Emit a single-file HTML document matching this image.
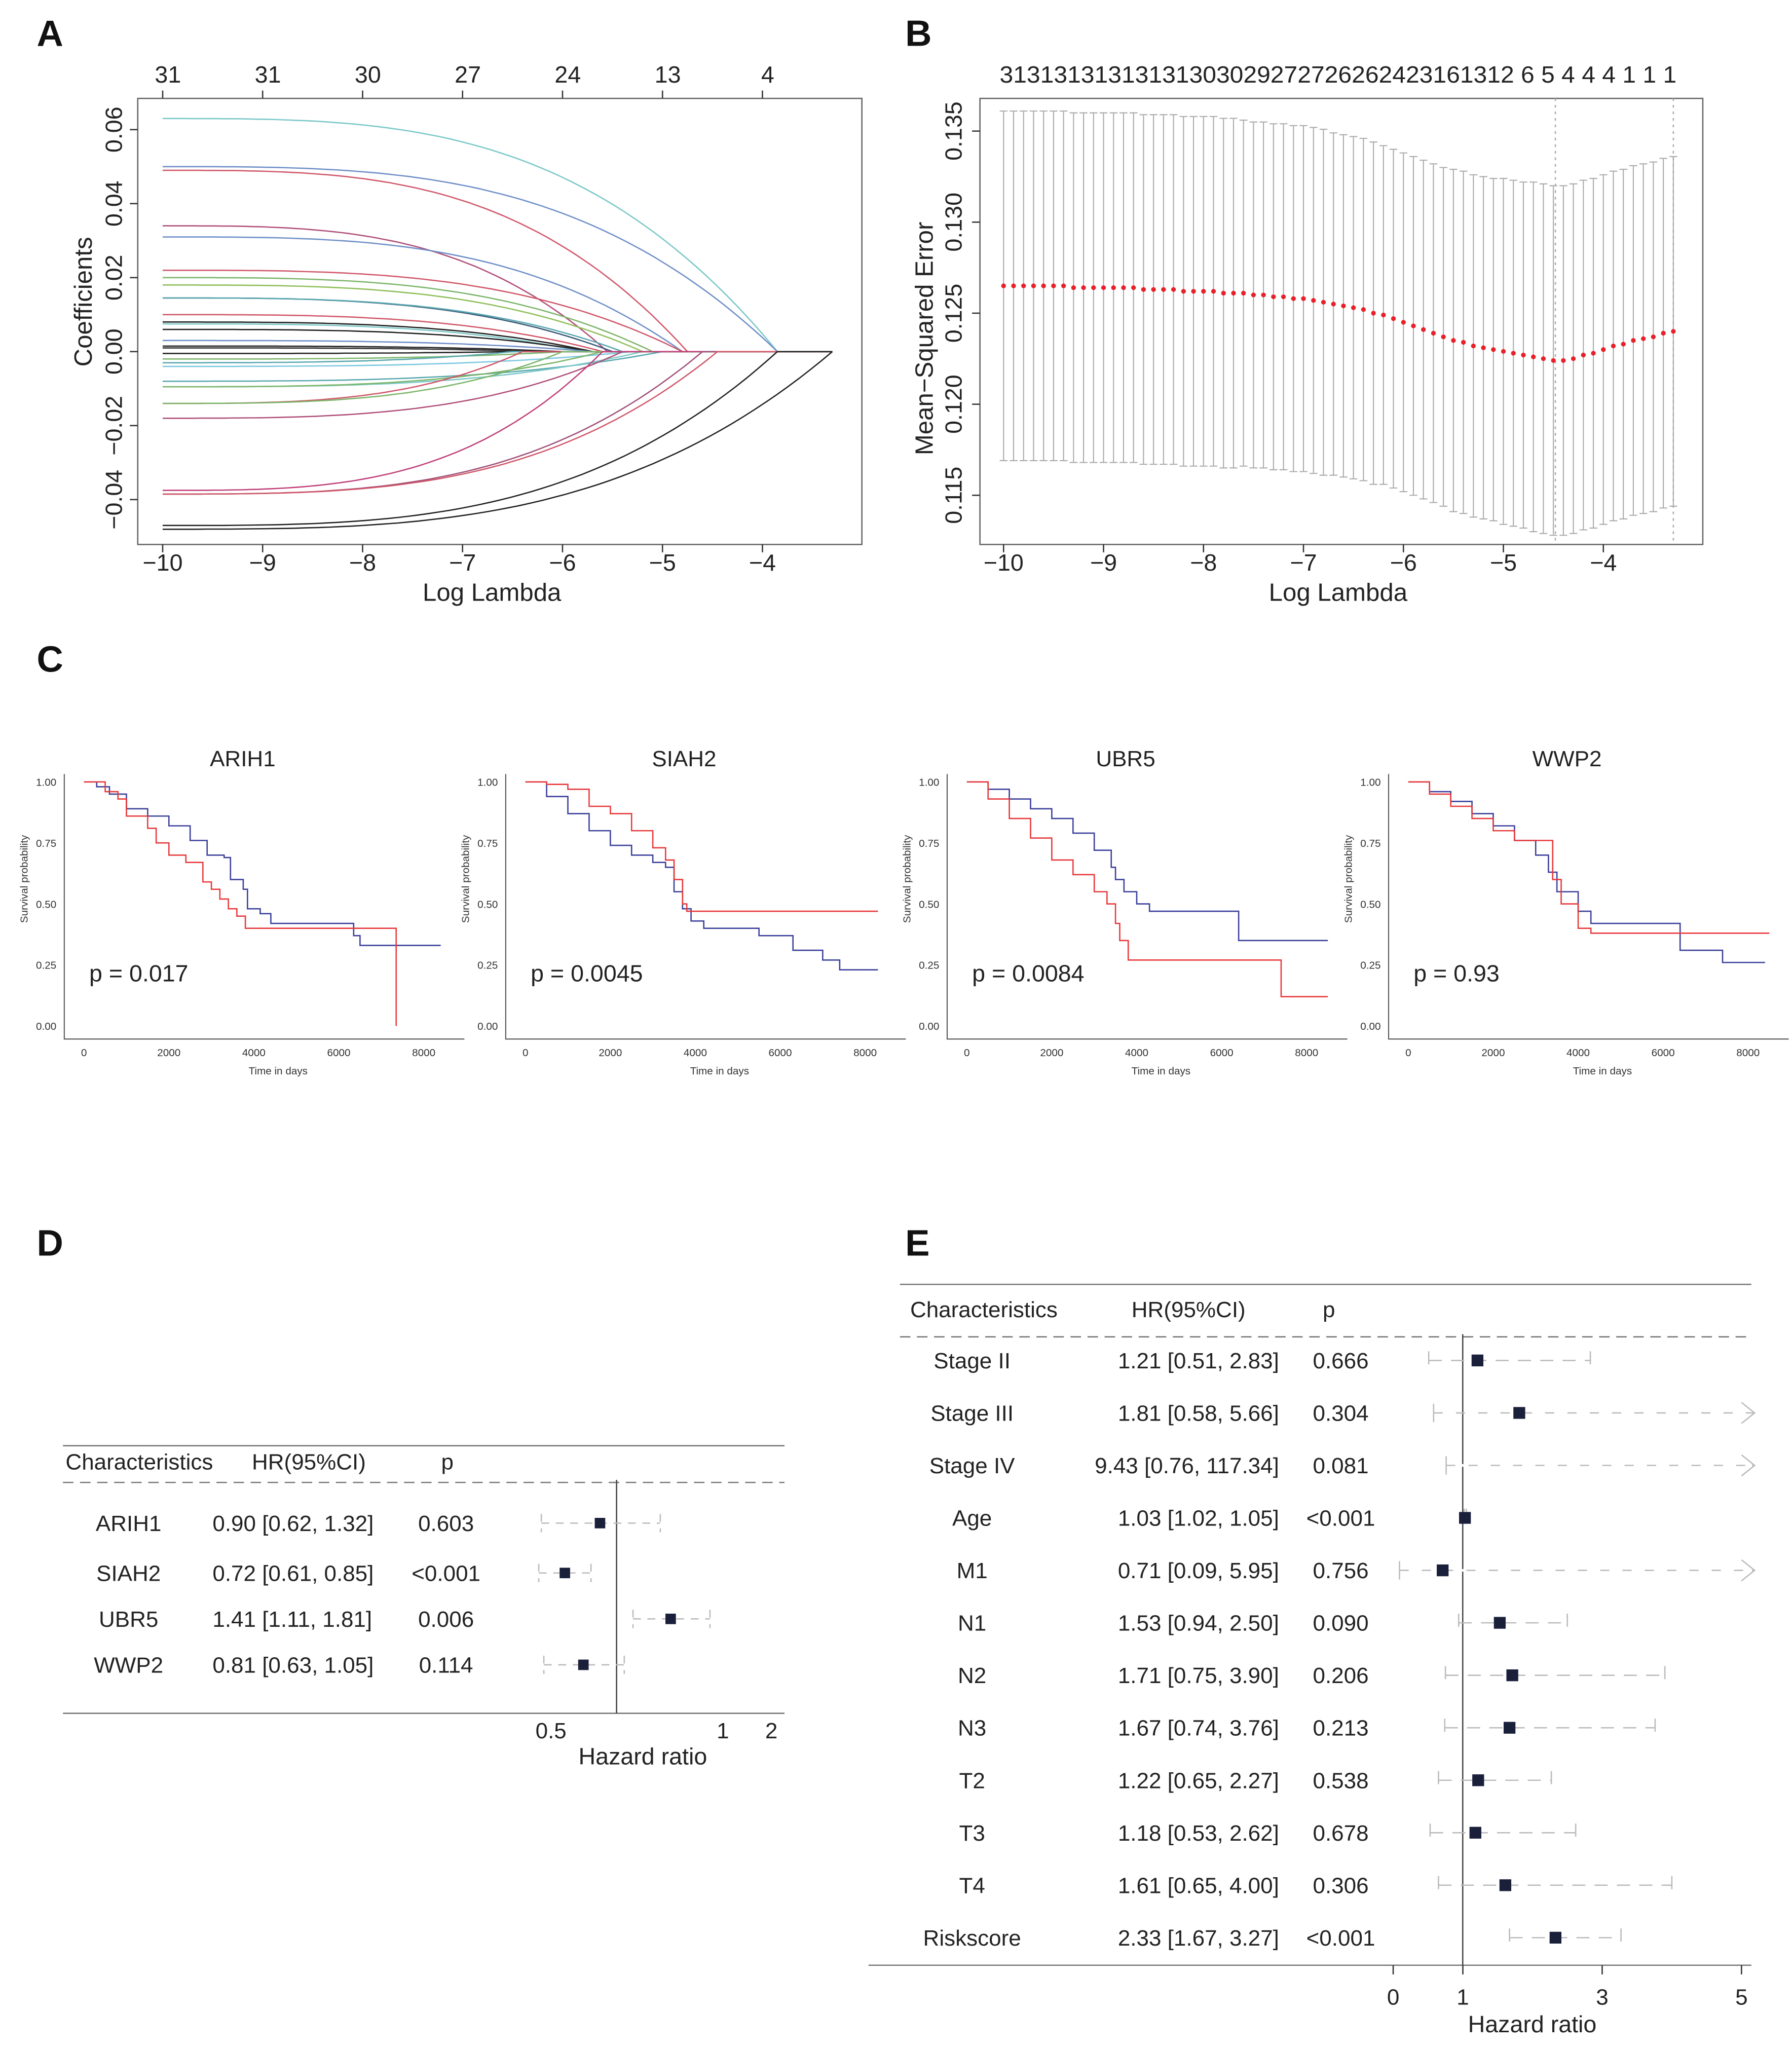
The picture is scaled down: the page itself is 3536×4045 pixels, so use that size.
<!DOCTYPE html>
<html><head><meta charset="utf-8"><style>
html,body{margin:0;padding:0;background:#fff;}
svg{display:block;font-family:"Liberation Sans",Arial,sans-serif;}
</style></head><body>
<svg id="fig" xmlns="http://www.w3.org/2000/svg" width="3536" height="4045" viewBox="0 0 1366 1562.6">
<rect x="0" y="0" width="1366" height="1562.6" fill="#fff"/>
<g font-weight="bold" font-size="28" fill="#111">
<text x="28" y="35">A</text>
<text x="690" y="35">B</text>
<text x="28" y="512">C</text>
<text x="28" y="957">D</text>
<text x="690" y="957">E</text>
</g>
<g id="pa"></g>
<g id="pb"></g>
<g id="pc"></g>
<g id="pd" transform="translate(0,-4)"></g>
<g id="pe" transform="translate(0,-4)"></g>
</svg>
<script>
// ---------- Panel A data ----------
const coefStart = [0.063,0.050,0.049,0.034,0.031,0.022,0.020,0.018,0.0145,0.0145,0.010,0.008,0.0075,0.006,0.003,0.0015,0.001,-0.0005,-0.002,-0.003,-0.004,-0.008,-0.0095,-0.0095,-0.014,-0.014,-0.018,-0.0375,-0.0385,-0.0385,-0.047,-0.048];
const coefZero  = [-3.85,-3.85,-4.75,-5.55,-4.8,-4.8,-5.1,-5.2,-5.5,-5.4,-5.6,-5.7,-5.8,-5.7,-5.7,-6.0,-6.2,-6.5,-6.0,-6.5,-5.3,-5.0,-5.2,-5.6,-6.4,-6.0,-5.4,-5.6,-4.6,-4.45,-3.85,-3.3];
const coefColor = ["#7cc8c8","#6f8fc8","#d0586a","#b0507a","#6f8fc8","#d0586a","#7cb56a","#8fbf5a","#3a5a78","#5aa8b0","#d0586a","#222","#7cc8c8","#222","#6f8fc8","#222","#333","#222","#7cb56a","#5aa8b0","#7cc8e0","#5aa8b0","#7cc8c8","#7cb56a","#d0586a","#7cb56a","#b0507a","#c0407a","#a0507a","#d0586a","#222","#222"];
const aTopLabels = ["31","31","30","27","24","13","4"];
const aXTicks = [-10,-9,-8,-7,-6,-5,-4];
const aYTicks = [0.06,0.04,0.02,0.00,-0.02,-0.04];
// ---------- Panel B data ----------
const bTopLabel = "31313131313131303029272726262423161312 6 5 4 4 4 1 1 1";
const bLambdaStart = -10, bLambdaStep = 0.1;
const bMse = [0.1265,0.1265,0.1265,0.1265,0.1265,0.1265,0.1265,0.1264,0.1264,0.1264,0.1264,
0.1264,0.1264,0.1264,0.1263,0.1263,0.1263,0.1263,0.1262,0.1262,0.1262,
0.1262,0.1261,0.1261,0.1261,0.1260,0.1260,0.1259,0.1259,0.1258,0.1258,
0.1257,0.1256,0.1255,0.1254,0.1253,0.1252,0.1250,0.1249,0.1247,0.1245,
0.1243,0.1241,0.1239,0.1237,0.1235,0.1234,0.1232,0.1231,0.1230,0.1229,
0.1228,0.1227,0.1226,0.1225,0.1224,0.1224,0.1225,0.1227,0.1228,0.1230,
0.1232,0.1233,0.1235,0.1236,0.1237,0.1239,0.1240];
const bSe = [0.0096,0.0096,0.0096,0.0096,0.0096,0.0096,0.0096,0.0096,0.0096,0.0096,0.0096,
0.0096,0.0096,0.0096,0.0096,0.0096,0.0096,0.0096,0.0096,0.0096,0.0096,
0.0096,0.0096,0.0096,0.0095,0.0095,0.0095,0.0095,0.0095,0.0095,0.0095,
0.0095,0.0095,0.0094,0.0094,0.0094,0.0094,0.0094,0.0093,0.0093,0.0093,
0.0093,0.0093,0.0093,0.0093,0.0094,0.0094,0.0094,0.0094,0.0094,0.0095,
0.0095,0.0095,0.0096,0.0096,0.0096,0.0096,0.0096,0.0096,0.0096,0.0096,
0.0096,0.0096,0.0096,0.0096,0.0096,0.0096,0.0096];
const bXTicks = [-10,-9,-8,-7,-6,-5,-4];
const bYTicks = [0.115,0.120,0.125,0.130,0.135];
const bVLines = [-4.48,-3.3];
// ---------- Panel C data ----------
const kmGenes = ["ARIH1","SIAH2","UBR5","WWP2"];
const kmP = ["p = 0.017","p = 0.0045","p = 0.0084","p = 0.93"];
const kmBlueT = [
[0,300,600,1000,1500,2000,2500,2900,3300,3450,3750,3850,4150,4400,6300,6350,6500,8400],
[0,500,1000,1500,2000,2500,3000,3300,3500,3700,3900,4200,5500,6300,7000,7400,8300],
[0,500,1000,1500,2000,2500,3000,3400,3500,3700,4000,4300,6300,6400,8500],
[0,500,1000,1500,2000,2500,3000,3300,3500,4000,4300,6300,6400,7400,8400]];
const kmBlueS = [
[1,0.98,0.95,0.89,0.86,0.82,0.76,0.70,0.69,0.60,0.56,0.48,0.46,0.42,0.42,0.37,0.33,0.33],
[1,0.94,0.87,0.80,0.74,0.70,0.67,0.65,0.55,0.48,0.43,0.40,0.37,0.31,0.27,0.23,0.23],
[1,0.97,0.93,0.89,0.85,0.79,0.72,0.65,0.60,0.55,0.50,0.47,0.47,0.35,0.35],
[1,0.96,0.92,0.87,0.82,0.76,0.70,0.63,0.55,0.47,0.42,0.42,0.31,0.26,0.26]];
const kmRedT = [
[0,500,800,1000,1500,1700,2000,2400,2800,3000,3200,3400,3600,3800,7350,7351],
[0,500,1000,1500,2000,2500,3000,3300,3500,3700,3800,8300],
[0,500,1000,1500,2000,2500,3000,3300,3500,3600,3800,7300,7400,8500],
[0,500,1000,1500,2000,2500,3300,3400,3600,4000,4300,8500]];
const kmRedS = [
[1,0.96,0.93,0.86,0.81,0.75,0.70,0.67,0.59,0.56,0.52,0.48,0.45,0.40,0.40,0.0],
[1,0.99,0.97,0.90,0.87,0.80,0.73,0.68,0.60,0.50,0.47,0.47],
[1,0.93,0.85,0.77,0.68,0.62,0.55,0.50,0.42,0.35,0.27,0.27,0.12,0.12],
[1,0.95,0.90,0.85,0.80,0.76,0.76,0.60,0.50,0.40,0.38,0.38]];
const kmXTicks = [0,2000,4000,6000,8000];
const kmYTicks = [0,0.25,0.5,0.75,1];
// ---------- Panel D data ----------
const dNames = ["ARIH1","SIAH2","UBR5","WWP2"];
const dHRtext = ["0.90 [0.62, 1.32]","0.72 [0.61, 0.85]","1.41 [1.11, 1.81]","0.81 [0.63, 1.05]"];
const dP = ["0.603","<0.001","0.006","0.114"];
const dHR = [0.90,0.72,1.41,0.81];
const dLo = [0.62,0.61,1.11,0.63];
const dHi = [1.32,0.85,1.81,1.05];
// ---------- Panel E data ----------
const eNames = ["Stage II","Stage III","Stage IV","Age","M1","N1","N2","N3","T2","T3","T4","Riskscore"];
const eHRtext = ["1.21 [0.51, 2.83]","1.81 [0.58, 5.66]","9.43 [0.76, 117.34]","1.03 [1.02, 1.05]","0.71 [0.09, 5.95]","1.53 [0.94, 2.50]","1.71 [0.75, 3.90]","1.67 [0.74, 3.76]","1.22 [0.65, 2.27]","1.18 [0.53, 2.62]","1.61 [0.65, 4.00]","2.33 [1.67, 3.27]"];
const eP = ["0.666","0.304","0.081","<0.001","0.756","0.090","0.206","0.213","0.538","0.678","0.306","<0.001"];
const eHR = [1.21,1.81,9.43,1.03,0.71,1.53,1.71,1.67,1.22,1.18,1.61,2.33];
const eLo = [0.51,0.58,0.76,1.02,0.09,0.94,0.75,0.74,0.65,0.53,0.65,1.67];
const eHi = [2.83,5.66,117.34,1.05,5.95,2.50,3.90,3.76,2.27,2.62,4.00,3.27];
const eXTicks = [0,1,3,5];

const NS="http://www.w3.org/2000/svg";
function mk(parent,tag,attrs,txt){const e=document.createElementNS(NS,tag);for(const k in attrs)e.setAttribute(k,attrs[k]);if(txt!==undefined)e.textContent=txt;parent.appendChild(e);return e;}

// ===== Panel A =====
(function(){
const g=document.getElementById('pa');
const X0=105,X1=657,Y0=75,Y1=415;
const xs=v=>124+(v+10)*76.2, ys=v=>268-v/0.02*56.4;
const box=mk(g,'rect',{x:X0,y:Y0,width:X1-X0,height:Y1-Y0,fill:'none',stroke:'#666','stroke-width':1});


for(let i=0;i<coefStart.length;i++){
 const v0=coefStart[i], z=coefZero[i];let d='';
 for(let k=0;k<=60;k++){const x=-10+(z+10)*k/60;const t=(x+10)/(z+10);const v=v0*(1-Math.pow(t,3.2));d+=(k?'L':'M')+xs(x).toFixed(1)+' '+ys(v).toFixed(1);}
 d+='L'+xs(-3.3).toFixed(1)+' '+ys(0).toFixed(1);
 const p=mk(g,'path',{d:d,fill:'none',stroke:coefColor[i],'stroke-width':1});
 
 
}
aXTicks.forEach((t,i)=>{
 mk(g,'line',{x1:xs(t),x2:xs(t),y1:Y1,y2:Y1+6,stroke:'#333'});
 const l=mk(g,'text',{x:xs(t),y:Y1+20,'font-size':18,'text-anchor':'middle',fill:'#222'},t<0?'\u2212'+(-t):''+t);
 
 
 mk(g,'line',{x1:xs(t),x2:xs(t),y1:Y0,y2:Y0-6,stroke:'#333'});
 const tl=mk(g,'text',{x:xs(t)+4,y:63,'font-size':18,'text-anchor':'middle',fill:'#222'},aTopLabels[i]);
 
 
});
aYTicks.forEach(t=>{
 mk(g,'line',{x1:X0,x2:X0-6,y1:ys(t),y2:ys(t),stroke:'#333'});
 const s=(t<0?'\u2212':'')+Math.abs(t).toFixed(2);
 const l=mk(g,'text',{x:0,y:0,'font-size':18,'text-anchor':'middle',fill:'#222',transform:`translate(93,${ys(t)}) rotate(-90)`},s);
 
 
});
const xt=mk(g,'text',{x:375,y:458,'font-size':19,'text-anchor':'middle',fill:'#222'},'Log Lambda');


const yt=mk(g,'text',{x:0,y:0,'font-size':19,'text-anchor':'middle',fill:'#222',transform:'translate(70,230) rotate(-90)'},'Coefficients');


})();

// ===== Panel B =====
(function(){
const g=document.getElementById('pb');
const X0=747,X1=1298,Y0=75,Y1=415;
const xs=v=>765+(v+10)*76.2, ys=v=>99.9+(0.135-v)/0.005*69.4;
const box=mk(g,'rect',{x:X0,y:Y0,width:X1-X0,height:Y1-Y0,fill:'none',stroke:'#666','stroke-width':1});


bVLines.forEach(v=>{mk(g,'line',{x1:xs(v),x2:xs(v),y1:Y0,y2:Y1,stroke:'#aaa','stroke-dasharray':'2 3'});});
bMse.forEach((m,i)=>{
 const lam=bLambdaStart+i*bLambdaStep, x=xs(lam);
 const eb=mk(g,'path',{d:`M${x} ${ys(m+bSe[i])}L${x} ${ys(m-bSe[i])}M${x-3} ${ys(m+bSe[i])}L${x+3} ${ys(m+bSe[i])}M${x-3} ${ys(m-bSe[i])}L${x+3} ${ys(m-bSe[i])}`,stroke:'#aaa','stroke-width':0.8,fill:'none'});
 
 
});
bMse.forEach((m,i)=>{
 const lam=bLambdaStart+i*bLambdaStep;
 const c=mk(g,'circle',{cx:xs(lam),cy:ys(m),r:1.8,fill:'#e8202a'});
 
 
});
bXTicks.forEach(t=>{
 mk(g,'line',{x1:xs(t),x2:xs(t),y1:Y1,y2:Y1+6,stroke:'#333'});
 const l=mk(g,'text',{x:xs(t),y:Y1+20,'font-size':18,'text-anchor':'middle',fill:'#222'},'\u2212'+(-t));
 
 
});
bYTicks.forEach(t=>{
 mk(g,'line',{x1:X0,x2:X0-6,y1:ys(t),y2:ys(t),stroke:'#333'});
 const l=mk(g,'text',{x:0,y:0,'font-size':18,'text-anchor':'middle',fill:'#222',transform:`translate(733,${ys(t)}) rotate(-90)`},t.toFixed(3));
 
 
});
const top=mk(g,'text',{x:762,y:63,'font-size':18,fill:'#222',textLength:516,lengthAdjust:'spacingAndGlyphs'},bTopLabel);


const xt=mk(g,'text',{x:1020,y:458,'font-size':19,'text-anchor':'middle',fill:'#222'},'Log Lambda');


const yt=mk(g,'text',{x:0,y:0,'font-size':19,'text-anchor':'middle',fill:'#222',transform:'translate(711,258) rotate(-90)'},'Mean\u2212Squared Error');


})();

// ===== Panel C =====
(function(){
const g=document.getElementById('pc');
kmGenes.forEach((gene,k)=>{
 const ox=64+k*336.5;
 const xs=t=>ox+t*259/8000, ys=s=>782-s*186;
 const sg=mk(g,'g',{});
 
 
 mk(sg,'path',{d:`M${ox-15} 590L${ox-15} 792L${ox+290} 792`,fill:'none',stroke:'#555','stroke-width':0.8});
 kmYTicks.forEach(t=>{
  const l=mk(sg,'text',{x:ox-21,y:ys(t)+3,'font-size':8,'text-anchor':'end',fill:'#333'},t.toFixed(2));
  
  
 });
 kmXTicks.forEach(t=>{
  const l=mk(sg,'text',{x:xs(t),y:805,'font-size':8,'text-anchor':'middle',fill:'#333'},''+t);
  
  
 });
 const xl=mk(sg,'text',{x:ox+148,y:819,'font-size':8,'text-anchor':'middle',fill:'#333'},'Time in days');
 
 
 const yl=mk(sg,'text',{x:0,y:0,'font-size':8,'text-anchor':'middle',fill:'#333',transform:`translate(${ox-43},670) rotate(-90)`},'Survival probability');
 
 
 const ti=mk(sg,'text',{x:ox+121,y:584,'font-size':17,'text-anchor':'middle',fill:'#222'},gene);
 
 
 const pv=mk(sg,'text',{x:ox+4,y:748,'font-size':18,fill:'#222'},kmP[k]);
 
 
 [[kmBlueT[k],kmBlueS[k],'#3a3f9a','blue'],[kmRedT[k],kmRedS[k],'#e8383a','red']].forEach(([T,S,col,nm])=>{
  let d=`M${xs(T[0])} ${ys(S[0])}`;
  for(let i=1;i<T.length;i++){d+=`L${xs(T[i])} ${ys(S[i-1])}L${xs(T[i])} ${ys(S[i])}`;}
  const p=mk(sg,'path',{d:d,fill:'none',stroke:col,'stroke-width':1});
  
  
 });
});
})();

// ===== Panel D =====
(function(){
const g=document.getElementById('pd');
const xs=v=>470+120*Math.log(v);
const rowY=[1165,1203,1238,1273];
mk(g,'line',{x1:48,x2:598,y1:1106,y2:1106,stroke:'#777'});
mk(g,'line',{x1:48,x2:598,y1:1134,y2:1134,stroke:'#777','stroke-dasharray':'8 5'});
mk(g,'line',{x1:48,x2:598,y1:1310,y2:1310,stroke:'#777'});
mk(g,'line',{x1:470,x2:470,y1:1132,y2:1310,stroke:'#444'});
[['Characteristics',50,'start'],['HR(95%CI)',192,'start'],['p',341,'middle']].forEach(([t,x,a])=>{
 const h=mk(g,'text',{x:x,y:1124,'font-size':17,'text-anchor':a,fill:'#222'},t);
 
 
});
dNames.forEach((n,i)=>{
 const y=rowY[i];
 const a=mk(g,'text',{x:98,y:y+6,'font-size':17,'text-anchor':'middle',fill:'#222'},n);
 
 
 const b=mk(g,'text',{x:162,y:y+6,'font-size':17,fill:'#222'},dHRtext[i]);
 
 
 const c=mk(g,'text',{x:340,y:y+6,'font-size':17,'text-anchor':'middle',fill:'#222'},dP[i]);
 
 
 const l=mk(g,'path',{d:`M${xs(dLo[i])} ${y}L${xs(dHi[i])} ${y}M${xs(dLo[i])} ${y-7}L${xs(dLo[i])} ${y+7}M${xs(dHi[i])} ${y-7}L${xs(dHi[i])} ${y+7}`,stroke:'#bbb','stroke-dasharray':'6 5',fill:'none'});
 
 
 const r=mk(g,'rect',{x:xs(dHR[i])-4,y:y-4,width:8,height:8,fill:'#1a1f3a'});
 
 
});
[['0.5',420],['1',551],['2',588]].forEach(([t,x])=>{
 const l=mk(g,'text',{x:x,y:1329,'font-size':17,'text-anchor':'middle',fill:'#222'},t);
 
 
});
const xt=mk(g,'text',{x:490,y:1349,'font-size':18,'text-anchor':'middle',fill:'#222'},'Hazard ratio');


})();

// ===== Panel E =====
(function(){
const g=document.getElementById('pe');
const xs=v=>1062+53.1*v;
const xmax=5;
mk(g,'line',{x1:686,x2:1335,y1:983,y2:983,stroke:'#777'});
mk(g,'line',{x1:686,x2:1335,y1:1023,y2:1023,stroke:'#777','stroke-dasharray':'8 5'});
mk(g,'line',{x1:662,x2:1335,y1:1502,y2:1502,stroke:'#777'});
mk(g,'line',{x1:1115,x2:1115,y1:1021,y2:1502,stroke:'#444'});
[['Characteristics',750],['HR(95%CI)',906],['p',1013]].forEach(([t,x])=>{
 const h=mk(g,'text',{x:x,y:1008,'font-size':17,'text-anchor':'middle',fill:'#222'},t);
 
 
});
eNames.forEach((n,i)=>{
 const y=1041+i*40;
 const a=mk(g,'text',{x:741,y:y+6,'font-size':17,'text-anchor':'middle',fill:'#222'},n);
 
 
 const b=mk(g,'text',{x:975,y:y+6,'font-size':17,'text-anchor':'end',fill:'#222'},eHRtext[i]);
 
 
 const c=mk(g,'text',{x:1022,y:y+6,'font-size':17,'text-anchor':'middle',fill:'#222'},eP[i]);
 
 
 const lo=xs(eLo[i]), over=eHi[i]>xmax, hi=xs(Math.min(eHi[i],xmax))+(over?10:0);
 let d=`M${lo} ${y}L${hi} ${y}M${lo} ${y-7}L${lo} ${y+7}`;
 if(over){d+=`M${hi-10} ${y-8}L${hi} ${y}L${hi-10} ${y+8}`;}else{d+=`M${hi} ${y-7}L${hi} ${y+7}`;}
 const l=mk(g,'path',{d:d,stroke:'#bbb','stroke-dasharray':over?'none':'10 7',fill:'none'});
 
 
 if(over){mk(g,'line',{x1:lo,x2:hi-2,y1:y,y2:y,stroke:'#fff','stroke-dasharray':'10 7','stroke-dashoffset':10,'stroke-width':2});}
 if(eHR[i]<=xmax){
  const r=mk(g,'rect',{x:xs(eHR[i])-4.5,y:y-4.5,width:9,height:9,fill:'#1a1f3a'});
  
  
 }
});
eXTicks.forEach(t=>{
 mk(g,'line',{x1:xs(t),x2:xs(t),y1:1502,y2:1509,stroke:'#333'});
 const l=mk(g,'text',{x:xs(t),y:1532,'font-size':17,'text-anchor':'middle',fill:'#222'},''+t);
 
 
});
const xt=mk(g,'text',{x:1168,y:1553,'font-size':18,'text-anchor':'middle',fill:'#222'},'Hazard ratio');


})();
</script>
</body></html>
